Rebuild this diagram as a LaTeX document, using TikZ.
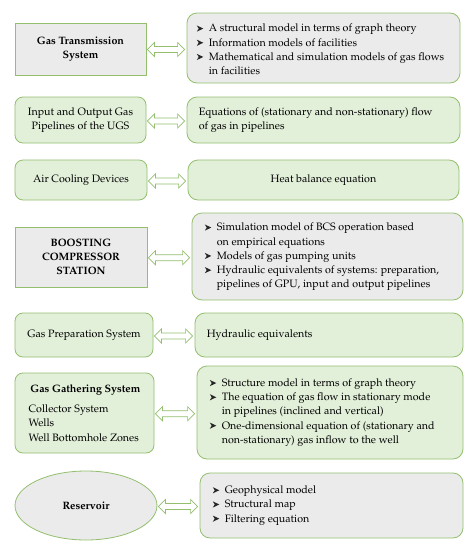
\documentclass[tikz,border=0pt]{standalone}
\usepackage[T1]{fontenc}
\usepackage{mathpazo}
\usetikzlibrary{shapes.geometric,shapes.arrows,calc}
\definecolor{gborder}{HTML}{93BF6E}
\definecolor{gfill}{HTML}{E2EFD9}
\definecolor{grfill}{HTML}{EBEBEB}
\newcommand{\abul}{\makebox[12pt][l]{\tikz[baseline=0pt,x=1pt,y=1pt,sharp corners]\fill[black!85,sharp corners] (0,0.3)--(6.5,3.4)--(0,6.5)--(1.9,3.4)--cycle;}}
\newcommand{\cnt}{\hspace*{12pt}}
\begin{document}
\begin{tikzpicture}[x=1pt,y=-1pt,
  base/.style={draw=gborder,line width=0.8pt,inner sep=0pt,font=\fontsize{10.7}{14.2}\selectfont},
  gbox/.style={base,rounded corners=8pt,fill=gfill,align=center},
  rbox/.style={base,fill=grfill,align=center},
  rgbox/.style={base,rounded corners=10pt,fill=grfill},
  rgrn/.style={base,rounded corners=10pt,fill=gfill},
  txt/.style={anchor=west,align=left,inner sep=0pt,font=\fontsize{10.7}{14.2}\selectfont},
  darr/.style={double arrow,draw=gborder,fill=white,line width=0.7pt,inner sep=0pt,
    minimum width=14pt,double arrow head extend=4pt,text height=5pt,text depth=0pt},
]
\useasboundingbox (0,0) rectangle (474,552);
% left column
\node[rbox,minimum width=131,minimum height=52] (L1) at (80.5,49) {\textbf{Gas Transmission}\\\textbf{System}};
\node[gbox,minimum width=131,minimum height=46] (L2) at (80.5,120) {Input and Output Gas\\Pipelines of the UGS};
\node[gbox,minimum width=132,minimum height=40] (L3) at (81,180) {Air Cooling Devices};
\node[rbox,minimum width=132,minimum height=60] (L4) at (81,257) {\textbf{BOOSTING}\\\textbf{COMPRESSOR}\\\textbf{STATION}};
\node[gbox,minimum width=138,minimum height=44] (L5) at (84,335) {Gas Preparation System};
\node[gbox,minimum width=139,minimum height=80,align=left] (L6) at (84.5,413) {\,\textbf{Gas Gathering System}\\[6pt]Collector System\\Wells\\Well Bottomhole Zones};
\node[base,ellipse,fill=grfill,minimum width=142,minimum height=69] (L7) at (86,505.5) {\textbf{Reservoir}};
% right column
\node[rgbox,minimum width=273,minimum height=70] (R1) at (323.5,48) {};
\node[txt] (T1) at ($(R1.west)+(10,1.5)$)
 {\abul A structural model in terms of graph theory\\\abul Information models of facilities\\\abul Mathematical and simulation models of gas flows\\\cnt in facilities};
\node[rgrn,minimum width=273,minimum height=46] (R2) at (323.5,120) {};
\node[txt] (T2) at ($(R2.west)+(12,0)$)
 {Equations of (stationary and non-stationary) flow\\of gas in pipelines};
\node[rgrn,minimum width=271,minimum height=40,align=center] (R3) at (323.5,180) {Heat balance equation};
\node[rgbox,minimum width=271,minimum height=87] (R4) at (327.5,256.5) {};
\node[txt] (T4) at ($(R4.west)+(13,0.5)$)
 {\abul Simulation model of BCS operation based\\\cnt on empirical equations\\\abul Models of gas pumping units\\\abul Hydraulic equivalents of systems: preparation,\\\cnt pipelines of GPU, input and output pipelines};
\node[rgrn,minimum width=268,minimum height=44] (R5) at (329,335) {};
\node[txt] (T5) at ($(R5.west)+(12,0)$) {Hydraulic equivalents};
\node[rgrn,minimum width=266,minimum height=93] (R6) at (330,412.5) {};
\node[txt] (T6) at ($(R6.west)+(13,0)$)
 {\abul Structure model in terms of graph theory\\\abul The equation of gas flow in stationary mode\\\cnt in pipelines (inclined and vertical)\\\abul One-dimensional equation of (stationary and\\\cnt non-stationary) gas inflow to the well};
\node[rgbox,minimum width=263,minimum height=65] (R7) at (331.5,505.5) {};
\node[txt] (T7) at ($(R7.west)+(13,0)$)
 {\abul Geophysical model\\\abul Structural map\\\abul Filtering equation};
% connectors
\foreach \i in {1,...,7}{
  \path let \p1=(L\i.east), \p2=(R\i.west) in
    node[darr,minimum height={\x2-\x1-3pt}] (A\i) at ($(\p1)!0.5!(\p2)+(-0.5,1)$) {};
}
\end{tikzpicture}
\end{document}
